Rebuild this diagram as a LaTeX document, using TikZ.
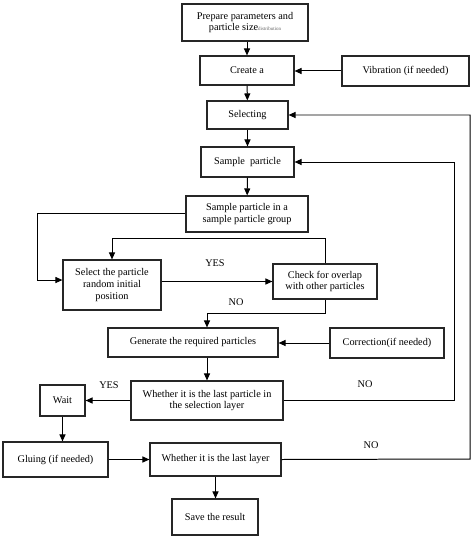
\documentclass[tikz,border=0pt]{standalone}
\usepackage{fontspec}
\setmainfont{Liberation Serif}
\usetikzlibrary{arrows.meta, positioning}

\begin{document}
\begin{tikzpicture}[
        x=1bp, y=-1bp,
        font=\fontsize{10.3}{11.8}\selectfont,
        >={Triangle[length=7pt, width=6pt]},
        line width=1pt,
        box/.style={
            draw=black!85,
            fill=white,
            line width=1.1pt,
            align=center,
            inner sep=1pt
        },
        lbl/.style={font=\fontsize{10.3}{11.8}\selectfont}
    ]

        \useasboundingbox (0,0) rectangle (474,538);

        \node[box, minimum width=126bp, minimum height=37bp] (prep) at (245,22.5) {Prepare parameters and\\particle size{\fontsize{5}{5}\selectfont\color{black!60}distribution}};
        \node[box, minimum width=94bp, minimum height=29bp] (create) at (247,70.5) {Create a};
        \node[box, minimum width=127bp, minimum height=30bp] (vib) at (405.5,71) {Vibration (if needed)};
        \node[box, minimum width=81bp, minimum height=28bp] (sel) at (247.5,115) {Selecting};
        \node[box, minimum width=93bp, minimum height=30bp] (samp) at (247.5,162) {Sample\ \ particle};
        \node[box, minimum width=122bp, minimum height=36bp] (group) at (247,214) {Sample particle in a\\sample particle group};

        \node[box, minimum width=98bp, minimum height=50bp] (select) at (112,285) {Select the particle\\random initial\\position};
        \node[box, minimum width=104bp, minimum height=35bp] (check) at (325,281.5) {Check for overlap\\with other particles};

        \node[box, minimum width=170bp, minimum height=29bp] (gen) at (193,342.5) {Generate the required particles};
        \node[box, minimum width=114bp, minimum height=30bp] (corr) at (387,343) {Correction(if needed)};

        \node[box, minimum width=152bp, minimum height=39bp] (lastp) at (207,400.5) {Whether it is the last particle in\\the selection layer};
        \node[box, minimum width=45bp, minimum height=31bp] (wait) at (62.5,400.5) {Wait};
        \node[box, minimum width=105bp, minimum height=35bp] (glue) at (55.5,459.5) {Gluing (if needed)};
        \node[box, minimum width=131bp, minimum height=33bp] (lastl) at (215.5,459.5) {Whether it is the last layer};
        \node[box, minimum width=86bp, minimum height=36bp] (save) at (215,517) {Save the result};

        \coordinate (loopL) at (37,213);
        \coordinate (loopA) at (470,459);
        \coordinate (loopB) at (454,400.5);

        \draw[->] (create.north |- prep.south) -- (create.north);
        \draw[->] (vib.west) -- (create.east |- vib.west);
        \draw[->] (create) -- (sel);
        \draw[->] (sel) -- (samp);
        \draw[->] (samp) -- (group);

        \draw[->] (group.west |- loopL) -- (loopL) |- ([yshift=5pt]select.west);
        \draw[->] (select.east |- check.west) -- (check.west);
        \draw[->] (check.north) -- ++(0,-25) -| (select.north);
        \draw[->] (check.south) -- ++(0,14) -| (lastp.north |- gen.north);
        \draw[->] (corr.west) -- (gen.east |- corr.west);
        \draw[->] (lastp.north |- gen.south) -- (lastp.north);

        \draw[->] (lastp.west) -- (wait.east);
        \draw[->] (wait.south) -- (wait.south |- glue.north);
        \draw[->] (glue.east) -- (lastl.west);
        \draw[->] (lastl.south) -- (lastl.south |- save.north);

        \draw[->] (lastp.east) -- (loopB) |- (samp.east);
        \draw[->] (lastl.east) -- (loopA) |- (sel.east);

        \node[lbl] (yes1) at (215,263) {YES};
        \node[lbl] (no1) at (236,302) {NO};
        \node[lbl] (yes2) at (109,385) {YES};
        \node[lbl] (no2) at (365,384) {NO};
        \node[lbl] (no3) at (371,445) {NO};

    \end{tikzpicture}
\end{document}
